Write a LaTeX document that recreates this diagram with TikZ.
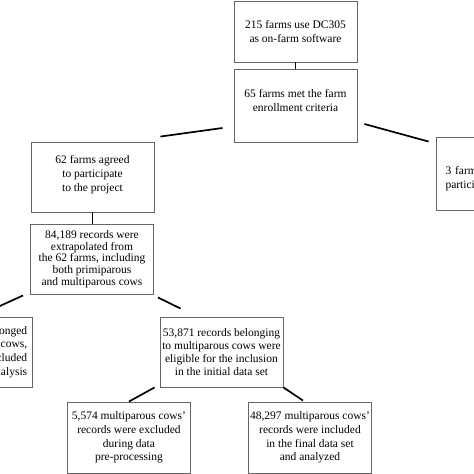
\documentclass[tikz,border=0pt]{standalone}
\usepackage{fontspec}
\setmainfont{Liberation Serif}
\usetikzlibrary{calc}
\begin{document}
\begin{tikzpicture}[x=1pt,y=-1pt,
  box/.style={draw=black!60, line width=0.9pt, fill=white, inner sep=0pt,
    align=center, minimum width=123pt, font=\fontsize{11.5}{14}\selectfont},
  conn/.style={draw=black, line width=1.7pt}]
\useasboundingbox (0,0) rectangle (474,474);
\clip (0,0) rectangle (474,474);
% boxes
\node[box, minimum height=61pt] (b1) at (295.5,31.5) {215 farms use DC305\\as on-farm software};
\node[box, minimum height=73pt, text depth=10pt] (b2) at (295.5,105.5) {65 farms met the farm\\enrollment criteria};
\node[box, minimum height=70pt, text depth=7pt] (b3) at (92.5,177) {62 farms agreed\\to participate\\to the project};
\node[box, minimum height=73pt, text width=104pt, align=left, text depth=6pt] (b4) at (497.5,173.5) {3 farms refused to\\participate};
\node[box, minimum height=70pt, font=\fontsize{11.5}{11.75}\selectfont] (b5) at (92,259) {84,189 records were\\extrapolated from\\the 62 farms, including\\both primiparous\\and multiparous cows};
\node[box, minimum height=70pt, align=right, font=\fontsize{11.5}{13.7}\selectfont] (b6) at (-29.5,352) {30,318 records belonged\\to primiparous cows,\\were excluded\\from the analysis};
\node[box, minimum height=70pt, font=\fontsize{11.5}{13}\selectfont] (b7) at (221.5,352) {53,871 records belonging\\to multiparous cows were\\eligible for the inclusion\\in the initial data set};
\node[box, minimum height=71pt, font=\fontsize{11.5}{13.7}\selectfont] (b8) at (129,437.5) {5,574 multiparous cows'\\records were excluded\\during data\\pre-processing};
\node[box, minimum height=71pt, font=\fontsize{11.5}{13.7}\selectfont] (b9) at (310,437.5) {48,297 multiparous cows'\\records were included\\in the final data set\\and analyzed};
% connectors
\draw[conn] (b1.south) -- (b2.north);
\draw[conn] ($(b2.west)+(-11,22.5)$) -- ($(b3.north east)+(6,-5)$);
\draw[conn] ($(b2.east)+(7,18.5)$) -- ($(b4.north west)+(-7,5)$);
\draw[conn] (b3.south) -- (b3.south |- b5.north);
\draw[conn] ($(b5.south west)+(-7,1)$) -- ($(b6.north east)+(-36,-9)$);
\draw[conn] ($(b5.south east)+(4,3)$) -- ($(b7.north west)+(21,-8)$);
\draw[conn] ($(b7.south west)+(-5,0)$) -- (b8.north);
\draw[conn] (b7.south east) -- ($(b9.north)+(-7,-1)$);
\end{tikzpicture}
\end{document}
